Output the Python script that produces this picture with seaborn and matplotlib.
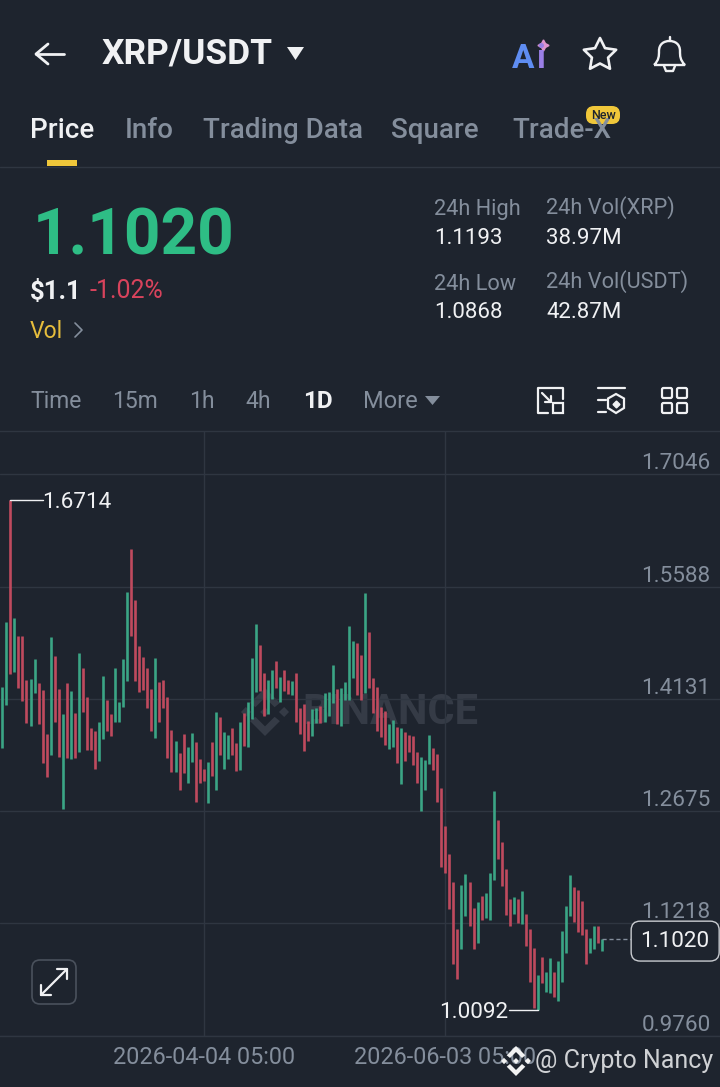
import math
import pandas as pd
import matplotlib.pyplot as plt
import matplotlib.path as mpath
from matplotlib.patches import FancyBboxPatch, PathPatch, Polygon, Rectangle
import seaborn as sns

body_high = [1.4289, 1.5133, 1.6714, 1.5176, 1.4951, 1.4947, 1.4376, 1.4384, 1.4644, 1.4341,
             1.4246, 1.3675, 1.4938, 1.4687, 1.4259, 1.3930, 1.4333, 1.4233, 1.3952, 1.4730,
             1.4527, 1.4151, 1.3749, 1.3718, 1.3835, 1.4428, 1.4116, 1.3930, 1.4536, 1.4086,
             1.4648, 1.5522, 1.6071, 1.5414, 1.4817, 1.4670, 1.4527, 1.4259, 1.4657, 1.4346,
             1.4376, 1.4160, 1.3727, 1.3584, 1.3433, 1.3671, 1.3511, 1.3684, 1.3567, 1.3355,
             1.3225, 1.3316, 1.3576, 1.3956, 1.3891, 1.3697, 1.3662, 1.3749, 1.3554, 1.3835,
             1.3952, 1.4086, 1.4665, 1.5098, 1.4830, 1.4471, 1.4375, 1.4505, 1.4626, 1.4410,
             1.4505, 1.4375, 1.4367, 1.4462, 1.4008, 1.4060, 1.3843, 1.3995, 1.4008, 1.4038,
             1.4211, 1.4224, 1.4570, 1.4254, 1.4267, 1.4349, 1.5080, 1.4886, 1.4851, 1.4700,
             1.5500, 1.5003, 1.4406, 1.4289, 1.4029, 1.3977, 1.3804, 1.3856, 1.3761, 1.3757,
             1.3705, 1.3662, 1.3653, 1.3437, 1.3381, 1.3337, 1.3662, 1.3489, 1.3415, 1.2970,
             1.2485, 1.2118, 1.1750, 1.1145, 1.1716, 1.1858, 1.1759, 1.1413, 1.1499, 1.1573,
             1.1607, 1.1876, 1.2935, 1.2559, 1.2278, 1.1919, 1.1530, 1.1556, 1.1534, 1.1638,
             1.1335, 1.1140, 1.0894, 1.0548, 1.0777, 1.0591, 1.0764, 1.0591, 1.0734, 1.1123,
             1.1447, 1.1845, 1.1685, 1.1651, 1.1512, 1.1145, 1.1024, 1.1184, 1.1188, 1.1020]
body_low = [1.3489, 1.4051, 1.4454, 1.4484, 1.4276, 1.4103, 1.3822, 1.3779, 1.4203, 1.3801,
            1.3303, 1.3121, 1.3407, 1.3827, 1.3381, 1.2702, 1.3368, 1.3346, 1.3359, 1.3446,
            1.3965, 1.3468, 1.3468, 1.3217, 1.3329, 1.3606, 1.3718, 1.3653, 1.3835, 1.3835,
            1.4021, 1.4363, 1.4947, 1.4363, 1.4224, 1.4246, 1.4008, 1.3718, 1.3619, 1.3835,
            1.4017, 1.3368, 1.3186, 1.3186, 1.2948, 1.3165, 1.3044, 1.3316, 1.2797, 1.3035,
            1.3065, 1.2784, 1.3130, 1.2948, 1.3398, 1.3217, 1.3355, 1.3398, 1.3195, 1.3208,
            1.3523, 1.3502, 1.3865, 1.4224, 1.4233, 1.3908, 1.3930, 1.4125, 1.4276, 1.4094,
            1.4233, 1.4189, 1.4181, 1.3826, 1.3675, 1.3458, 1.3588, 1.3653, 1.3813, 1.3813,
            1.3826, 1.3908, 1.4073, 1.3804, 1.3783, 1.4116, 1.4116, 1.4406, 1.4181, 1.4116,
            1.4211, 1.4276, 1.3943, 1.3718, 1.3640, 1.3532, 1.3476, 1.3510, 1.3303, 1.3022,
            1.3324, 1.3437, 1.3272, 1.3035, 1.2676, 1.2948, 1.3281, 1.3208, 1.2797, 1.1945,
            1.1867, 1.1404, 1.0690, 1.0496, 1.0885, 1.1318, 1.1184, 1.0881, 1.0959, 1.1261,
            1.1292, 1.1261, 1.1780, 1.2053, 1.1707, 1.1326, 1.1184, 1.1339, 1.1218, 1.1209,
            1.0924, 1.0461, 1.0115, 1.0092, 1.0440, 1.0331, 1.0310, 1.0267, 1.0215, 1.0453,
            1.0829, 1.1313, 1.1240, 1.1110, 1.1067, 1.0690, 1.0829, 1.0881, 1.0959, 1.0863]
# u = green candle, d = red candle
direction = ("u u d u d d d u u d "
             "d d u d d u d u d u "
             "d d d d u u d d u u "
             "u u d d d d d d u d "
             "d d d u d d u u d d "
             "d u d u d u u d d u "
             "d u u u d d u u d u "
             "d d u d d d d u u d "
             "u u u d u u u u d d "
             "u d d d d d u u d u "
             "d d d d u u u d d d "
             "d d d d u u d d u d "
             "u u u d d d d u d u "
             "d d d u d u u d u u "
             "u u d d d d u u d u").split()
price_ticks = [0.9760, 1.1218, 1.2675, 1.4131, 1.5588, 1.7046]
price_labels = ['0.9760', '1.1218', '1.2675', '1.4131', '1.5588', '1.7046']
date_ticks = ['2026-04-04 05:00', '2026-06-03 05:00']
first_day = '2026-02-13 05:00'
high_mark = 1.6714
low_mark = 1.0092
last_price = 1.1020

BG = '#1e242e'
GRID = '#2f3641'
GREY = '#848e9c'
WHITE = '#f0f1f3'
UP = '#3ba585'
DOWN = '#bf4a5e'
YELLOW = '#f0c73a'

sns.set_theme(style='dark', rc={'axes.facecolor': 'none', 'figure.facecolor': BG})
plt.rcParams['font.family'] = ['Roboto', 'DejaVu Sans']

days = pd.date_range(first_day, periods=len(body_high), freq='D')
df = pd.DataFrame({'day': days, 'high': body_high, 'low': body_low, 'direction': direction})
long_df = df.melt(id_vars=['day', 'direction'], value_vars=['high', 'low'], value_name='price')

fig = plt.figure(figsize=(7.2, 10.87), dpi=100)
bg = fig.add_axes([0, 0, 1, 1], zorder=0)
ax = fig.add_axes([0, 1 - 1035.7 / 1087, 1, (1035.7 - 431) / 1087], zorder=1)
ui = fig.add_axes([0, 0, 1, 1], zorder=2)
for a in (bg, ui):
    a.set_xlim(0, 720)
    a.set_ylim(1087, 0)
    a.axis('off')
    a.patch.set_alpha(0)

# candles
sns.lineplot(data=long_df, x='day', y='price', hue='direction', units='day', estimator=None,
             palette={'u': UP, 'd': DOWN}, linewidth=1.9, solid_capstyle='butt', legend=False, ax=ax)
xlim = (days[0] - pd.Timedelta(days=0.58), days[0] + pd.Timedelta(days=178.2))
ax.set_xlim(xlim)
ax.set_ylim(0.9760, 1.7607)
ax.set_xlabel('')
ax.set_ylabel('')
ax.set_xticks(pd.to_datetime(date_ticks), date_ticks)
ax.set_yticks(price_ticks, price_labels, va='bottom')
ax.yaxis.tick_right()
ax.tick_params(axis='y', length=0, pad=-56.5, labelsize=16.2, labelcolor=GREY)
ax.tick_params(axis='x', length=0, pad=7.5, labelsize=16.8, labelcolor=GREY)
ax.grid(True, color=GRID, linewidth=1)
ax.set_axisbelow(True)
for side, sp in ax.spines.items():
    sp.set_visible(side in ('top', 'bottom'))
    sp.set_color(GRID)
    sp.set_linewidth(1)

# high, low and last price markers
ax.plot([days[2], days[10]], [high_mark, high_mark], color=WHITE, lw=1)
ax.plot([days[125] + pd.Timedelta(days=0.7), days[133]], [low_mark, low_mark], color=WHITE, lw=1)
ax.plot([days[-1], days[-1] + pd.Timedelta(days=8)], [last_price, last_price], color=GREY, lw=1, linestyle=(0, (3, 2)))
ax.annotate('1.6714', xy=(days[10], high_mark), xytext=(0, 0), textcoords='offset points',
            va='center_baseline', ha='left', color=WHITE, fontsize=16.2)
ax.annotate('1.0092', xy=(days[125] + pd.Timedelta(days=0.7), low_mark), xytext=(0, 0), textcoords='offset points',
            va='center_baseline', ha='right', color=WHITE, fontsize=16.2)
ax.annotate('1.1020', xy=(days[-1], last_price), xytext=(27.5, 0), textcoords='offset points',
            va='center_baseline', ha='left', color=WHITE, fontsize=16.2, zorder=5,
            bbox=dict(boxstyle='round,pad=0.42,rounding_size=0.4', fc=BG, ec='#c9ccd1', lw=1))


def txt(x, y, s, size, color=GREY, weight='normal', ha='left', target=None):
    (target or ui).text(x, y + 2, s, fontsize=size, color=color, fontweight=weight, ha=ha, va='center')


def line(pts, color=WHITE, lw=1.7):
    xs, ys = zip(*pts)
    ui.plot(xs, ys, color=color, lw=lw, solid_capstyle='round', solid_joinstyle='round')


def logo(target, cx, cy, r, color):
    # binance style diamond: centre square and four chevrons
    target.add_patch(Polygon([(cx - r * .2, cy), (cx, cy - r * .2), (cx + r * .2, cy), (cx, cy + r * .2)], fc=color, ec='none'))
    for sx, sy in [(0, -1), (0, 1), (-1, 0), (1, 0)]:
        if sx == 0:
            pts = [(cx - r * .62, cy + sy * r * .38), (cx, cy + sy * r), (cx + r * .62, cy + sy * r * .38),
                   (cx + r * .4, cy + sy * r * .2), (cx, cy + sy * r * .6), (cx - r * .4, cy + sy * r * .2)]
        else:
            pts = [(cx + sx * r * .58, cy), (cx + sx * r * .8, cy - r * .21), (cx + sx * r, cy), (cx + sx * r * .8, cy + r * .21)]
        target.add_patch(Polygon(pts, fc=color, ec='none'))


# watermark sits under the candles
logo(bg, 265, 712, 24, '#353b46')
bg.text(390, 713, 'BINANCE', fontsize=30, fontweight='bold', color='#353b46', ha='center', va='center')

# header
line([(64, 54), (36, 54)], lw=2)
line([(48, 44), (36, 54), (48, 64)], lw=2)
txt(102, 52, 'XRP/USDT', 25.5, WHITE, 'bold')
ui.add_patch(Polygon([(287, 47), (304, 47), (295.5, 60)], fc=WHITE, ec='none'))
txt(512, 57, 'A', 24, '#5f8df2', 'bold')
txt(536, 57, 'i', 24, '#9a7fe6', 'bold')
ui.plot([543], [45], marker=(4, 1, 0), ms=8, color='#df95cf')
star = []
for k in range(10):
    r = 17 if k % 2 == 0 else 8.5
    star.append((600 + r * math.sin(k * math.pi / 5), 55 - r * math.cos(k * math.pi / 5)))
ui.add_patch(Polygon(star, fc='none', ec=WHITE, lw=1.9, joinstyle='round'))
bell = mpath.Path([(654, 65), (659, 60), (659, 56), (659, 51), (659, 44), (664, 41), (669.5, 41),
                   (675, 41), (680, 44), (680, 51), (680, 56), (680, 60), (685, 65), (654, 65)],
                  [1, 4, 4, 4, 4, 4, 4, 4, 4, 4, 4, 4, 4, 2])
ui.add_patch(PathPatch(bell, fc='none', ec=WHITE, lw=1.7))
line([(669.5, 37), (669.5, 41)])
line([(664, 66), (666, 71), (673, 71), (675, 66)])

# tabs
for x, s, c in [(30, 'Price', WHITE), (125, 'Info', GREY), (203, 'Trading Data', GREY),
                (391, 'Square', GREY), (512, 'Trade-X', GREY)]:
    txt(x, 128, s, 20, c, 'medium')
ui.add_patch(FancyBboxPatch((588, 108), 30, 14, boxstyle='round,pad=2,rounding_size=8', fc=YELLOW, ec='none'))
ui.text(603, 115.5, 'New', fontsize=9, color='#1e242e', fontweight='medium', ha='center', va='center')
ui.add_patch(Rectangle((47, 160), 30, 6, fc=YELLOW, ec='none'))
ui.plot([0, 720], [166.5, 166.5], color=GRID, lw=1)

# price block
txt(33, 235, '1.1020', 46, '#2ebd85', 'bold')
txt(30, 290, '$1.1', 18.5, WHITE, 'bold')
txt(90, 289, '-1.02%', 18, '#d8435c')
txt(30, 329, 'Vol', 16.5, '#e6bd3c')
line([(75, 323), (82, 330), (75, 337)], GREY, 1.2)
for x, y, s, c, sz in [(434, 208, '24h High', GREY, 15.7), (434, 237, '1.1193', WHITE, 16),
                       (434, 282, '24h Low', GREY, 15.7), (434, 311, '1.0868', WHITE, 16),
                       (546, 206, '24h Vol(XRP)', GREY, 15.7), (546, 236, '38.97M', WHITE, 16),
                       (546, 280, '24h Vol(USDT)', GREY, 15.7), (546, 310, '42.87M', WHITE, 16)]:
    txt(x, y, s, sz, c)

# interval bar
for x, s, sz in [(30, 'Time', 16.5), (112, '15m', 16.5), (189, '1h', 16.5), (245, '4h', 16.5), (363, 'More', 17)]:
    txt(x, 399, s, sz, GREY)
txt(303, 399, '1D', 17.5, WHITE, 'bold')
ui.add_patch(Polygon([(425, 396), (440, 396), (432.5, 405)], fc=GREY, ec='none'))

# toolbar icons
line([(548, 413), (538, 413), (538, 388), (563, 388), (563, 399)], lw=1.6)
line([(542, 393), (551, 402)], lw=1.6)
line([(551, 396), (551, 402), (545, 402)], lw=1.6)
ui.add_patch(Rectangle((553, 403), 10, 10, fc='none', ec=WHITE, lw=1.6))
line([(598, 388), (625, 388)], lw=1.6)
line([(598, 400), (606, 400)], lw=1.6)
line([(598, 412), (606, 412)], lw=1.6)
ui.add_patch(Polygon([(616, 394), (624, 398.5), (624, 408), (616, 413), (608, 408), (608, 398.5)], fc='none', ec=WHITE, lw=1.6))
ui.plot([616], [403.5], marker='D', ms=3.5, color=WHITE)
for x, y in [(662, 388), (677, 388), (662, 403), (677, 403)]:
    ui.add_patch(FancyBboxPatch((x, y), 10, 10, boxstyle='round,pad=0,rounding_size=1.5', fc='none', ec=WHITE, lw=1.6))

# expand button
ui.add_patch(FancyBboxPatch((32, 960), 44, 44, boxstyle='round,pad=0,rounding_size=8', fc=BG, ec='#4a515c', lw=1.2))
line([(41, 995), (67, 969)], lw=1.6)
line([(57, 969), (67, 969), (67, 979)], lw=1.6)
line([(41, 985), (41, 995), (51, 995)], lw=1.6)

# attribution
logo(ui, 516, 1061, 15, '#f2f2f2')
txt(535, 1059, '@ Crypto Nancy', 18, '#cfd1d4')

fig.savefig('out.png', dpi=100, facecolor=BG)
